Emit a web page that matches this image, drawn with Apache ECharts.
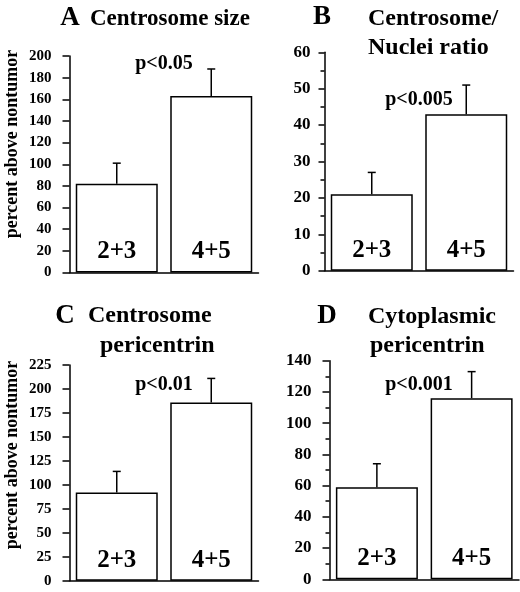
<!DOCTYPE html>
<html>
<head>
<meta charset="utf-8">
<script src="https://cdn.jsdelivr.net/npm/echarts@6/dist/echarts.min.js"></script>
<style>
  html, body { margin: 0; padding: 0; background: #fff; }
  #chart { width: 520px; height: 592px; }
</style>
</head>
<body>
<div id="chart"></div>
<script>
var groups = ['2+3', '4+5'];

var sizeMeans = [82, 163];
var sizeErrs = [19, 25];
var ratioMeans = [21, 43];
var ratioErrs = [6, 8];
var centPeriMeans = [92, 186];
var centPeriErrs = [22, 25];
var cytoPeriMeans = [59, 116];
var cytoPeriErrs = [15, 17];

var yMax = [200, 60, 225, 140];
var yStep = [20, 10, 25, 20];
var pValues = ['p<0.05', 'p<0.005', 'p<0.01', 'p<0.001'];
var yName = 'percent above nontumor';

var FONT = "'Times New Roman', 'Liberation Serif', serif";

var panels = [
  { means: sizeMeans, errs: sizeErrs, grid: { left: 69.5, top: 56, width: 189, height: 216.5 }, tick: 7, minor: false, labelSize: 15, margin: 18 },
  { means: ratioMeans, errs: ratioErrs, grid: { left: 324.5, top: 52.3, width: 189, height: 218.4 }, tick: 6, minor: true, labelSize: 17, margin: 14 },
  { means: centPeriMeans, errs: centPeriErrs, grid: { left: 69.5, top: 365, width: 189, height: 215.7 }, tick: 7, minor: false, labelSize: 15, margin: 18 },
  { means: cytoPeriMeans, errs: cytoPeriErrs, grid: { left: 329.5, top: 360.7, width: 189.5, height: 218.6 }, tick: 7, minor: true, labelSize: 17, margin: 18 }
];

var chart = echarts.init(document.getElementById('chart'), null, { renderer: 'canvas' });

function renderErr(params, api) {
  var x = api.value(0);
  var v = api.value(1);
  var e = api.value(2);
  var p0 = api.coord([x, v]);
  var p1 = api.coord([x, v + e]);
  var st = { stroke: '#000', lineWidth: 1.5 };
  return {
    type: 'group',
    children: [
      { type: 'line', shape: { x1: p0[0], y1: p0[1], x2: p1[0], y2: p1[1] }, style: st },
      { type: 'line', shape: { x1: p1[0] - 4, y1: p1[1], x2: p1[0] + 4, y2: p1[1] }, style: st }
    ]
  };
}

var grids = [], xAxes = [], yAxes = [], series = [];
panels.forEach(function (p, i) {
  grids.push(p.grid);
  xAxes.push({
    type: 'category',
    gridIndex: i,
    data: groups,
    axisLine: { lineStyle: { color: '#000', width: 1.5 } },
    axisTick: { alignWithLabel: true, length: 4, lineStyle: { color: '#000', width: 1.5 } },
    axisLabel: { show: false }
  });
  yAxes.push({
    type: 'value',
    gridIndex: i,
    min: 0,
    max: yMax[i],
    interval: yStep[i],
    axisLine: { show: true, lineStyle: { color: '#000', width: 1.5 } },
    axisTick: { show: true, length: p.tick, lineStyle: { color: '#000', width: 1.5 } },
    minorTick: { show: p.minor, splitNumber: 2, length: 4, lineStyle: { color: '#000', width: 1.5 } },
    splitLine: { show: false },
    axisLabel: { color: '#000', fontFamily: FONT, fontWeight: 'bold', fontSize: p.labelSize, margin: p.margin }
  });
  series.push({
    type: 'bar',
    xAxisIndex: i,
    yAxisIndex: i,
    data: p.means,
    barWidth: 82,
    itemStyle: { color: '#fff', borderColor: '#000', borderWidth: 1.5 },
    label: {
      show: true,
      position: 'insideBottom',
      distance: 8,
      formatter: '{b}',
      color: '#000',
      fontFamily: FONT,
      fontWeight: 'bold',
      fontSize: 25
    }
  });
  series.push({
    type: 'custom',
    xAxisIndex: i,
    yAxisIndex: i,
    renderItem: renderErr,
    data: p.means.map(function (m, j) { return [j, m, p.errs[j]]; }),
    z: 3
  });
});

function txt(s, x, y, size, align, rot) {
  return {
    type: 'text',
    x: x,
    y: y,
    rotation: rot || 0,
    style: {
      text: s,
      fill: '#000',
      font: 'bold ' + size + 'px ' + FONT,
      textAlign: align || 'left',
      textVerticalAlign: 'middle'
    }
  };
}

var graphics = [
  txt('A', 70, 18, 27, 'center'),
  txt('Centrosome size', 90, 19, 23),
  txt('B', 322, 17, 27, 'center'),
  txt('Centrosome/', 368, 19, 24),
  txt('Nuclei ratio', 368, 48, 24),
  txt('C', 65, 316, 27, 'center'),
  txt('Centrosome', 88, 316, 24),
  txt('pericentrin', 100, 346, 24),
  txt('D', 327, 316, 27, 'center'),
  txt('Cytoplasmic', 368, 317, 24),
  txt('pericentrin', 370, 346, 24),
  txt(yName, 12, 144, 18, 'center', Math.PI / 2),
  txt(yName, 12, 455, 18, 'center', Math.PI / 2),
  txt(pValues[0], 164, 64, 20, 'center'),
  txt(pValues[1], 419, 100, 20, 'center'),
  txt(pValues[2], 164, 385, 20, 'center'),
  txt(pValues[3], 419, 385, 20, 'center')
];

chart.setOption({
  animation: false,
  backgroundColor: '#fff',
  grid: grids,
  xAxis: xAxes,
  yAxis: yAxes,
  series: series,
  graphic: graphics
});
</script>
</body>
</html>
